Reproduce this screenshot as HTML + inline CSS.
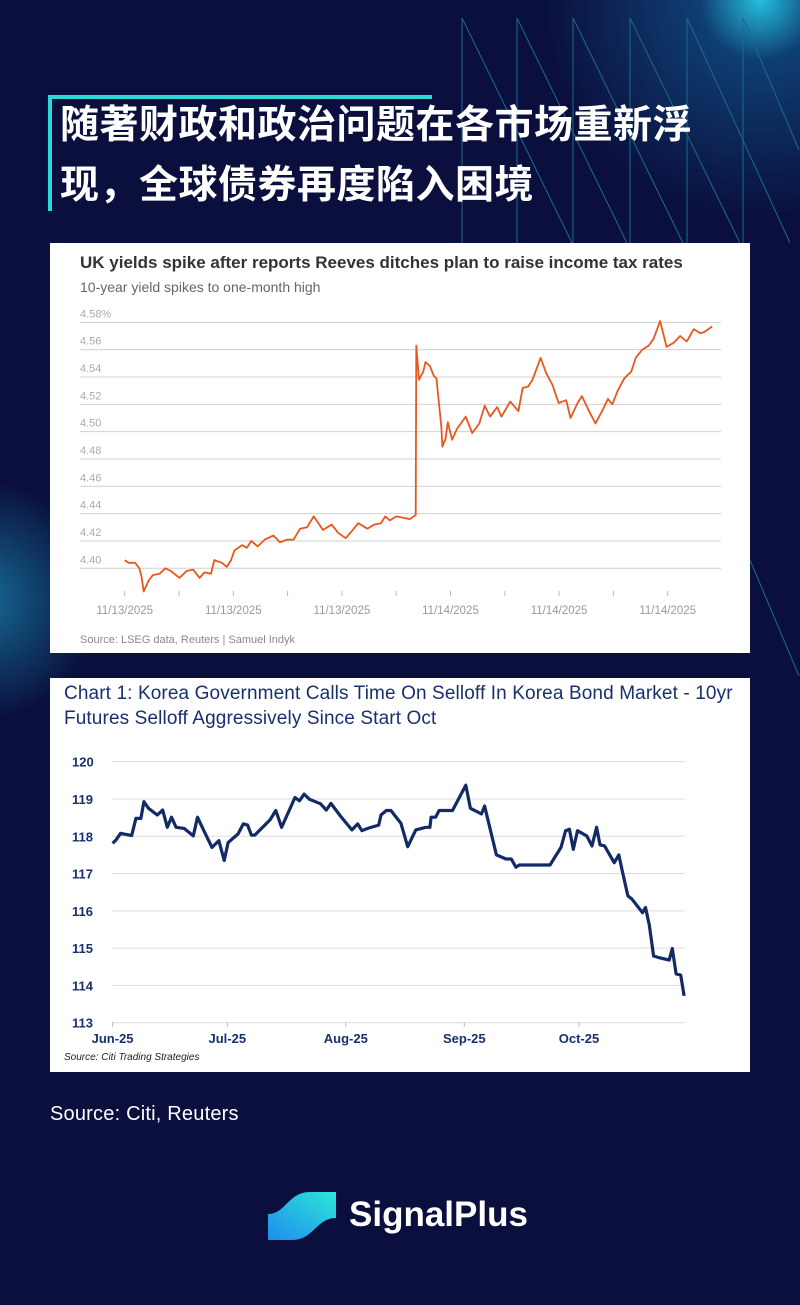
<!DOCTYPE html>
<html><head><meta charset="utf-8">
<style>
*{margin:0;padding:0;box-sizing:border-box}
body{width:800px;height:1305px;background:#0a0f3d;position:relative;overflow:hidden;font-family:"Liberation Sans","Noto Sans CJK SC",sans-serif}
.abs{position:absolute}
</style></head><body>
<div class="abs" style="left:500px;top:-300px;width:300px;height:560px;overflow:hidden"><div style="position:absolute;left:0;top:0;width:520px;height:560px;background:radial-gradient(circle at 260px 300px,rgba(40,210,240,0.9) 0,rgba(20,120,180,0.45) 60px,rgba(10,15,61,0) 220px)"></div></div>
<div class="abs" style="left:0;top:440px;width:110px;height:320px;overflow:hidden"><div style="position:absolute;left:-150px;top:0;width:260px;height:320px;background:radial-gradient(circle at 130px 160px,rgba(30,170,210,0.6) 0,rgba(10,15,61,0) 120px)"></div></div>
<svg class="abs" style="left:0;top:0" width="800" height="700">
<g stroke="#1b6b8a" stroke-width="1" fill="none">
<line x1="462" y1="18" x2="462" y2="243"/><line x1="462" y1="18" x2="572" y2="243"/>
<line x1="517" y1="18" x2="517" y2="243"/><line x1="517" y1="18" x2="627" y2="243"/>
<line x1="573" y1="18" x2="573" y2="243"/><line x1="573" y1="18" x2="683" y2="243"/>
<line x1="630" y1="18" x2="630" y2="243"/><line x1="630" y1="18" x2="740" y2="243"/>
<line x1="687" y1="18" x2="687" y2="243"/><line x1="687" y1="18" x2="790" y2="243"/>
<line x1="743" y1="18" x2="743" y2="243"/><line x1="743" y1="18" x2="799" y2="150"/>
<line x1="750" y1="560" x2="799" y2="676"/>
</g></svg>
<div class="abs" style="left:48px;top:95px;width:384px;height:4px;background:#2ad6d6"></div>
<div class="abs" style="left:48px;top:95px;width:4px;height:116px;background:#2ad6d6"></div>
<div class="abs" style="left:60px;top:96px;white-space:nowrap;color:#fff;font-size:39px;letter-spacing:0.5px;font-weight:bold;line-height:60px;font-family:'Liberation Sans','Noto Sans CJK SC',sans-serif">随著财政和政治问题在各市场重新浮<br>现，全球债券再度陷入困境</div>

<div class="abs" style="left:50px;top:243px;width:700px;height:410px;background:#fff">
<div class="abs" style="left:30px;top:10px;font-size:17px;font-weight:bold;color:#333">UK yields spike after reports Reeves ditches plan to raise income tax rates</div>
<div class="abs" style="left:30px;top:36px;font-size:14px;color:#666">10-year yield spikes to one-month high</div>
<div class="abs" style="left:30px;top:391px;font-size:11px;color:#888">Source: LSEG data, Reuters | Samuel Indyk</div>
</div>
<svg class="abs" id="uk" style="left:0;top:0" width="800" height="660"></svg>

<div class="abs" style="left:50px;top:678px;width:700px;height:394px;background:#fff;overflow:hidden">
<div class="abs" style="left:14px;top:3px;width:690px;font-size:19px;letter-spacing:0.12px;color:#1a2f6e;line-height:25px;white-space:nowrap">Chart 1: Korea Government Calls Time On Selloff In Korea Bond Market - 10yr<br>Futures Selloff Aggressively Since Start Oct</div>
<div class="abs" style="left:14px;top:374px;font-size:10px;font-style:italic;color:#222">Source: Citi Trading Strategies</div>
</div>
<svg class="abs" id="kr" style="left:0;top:0" width="800" height="1080"></svg>

<div class="abs" style="left:50px;top:1103px;font-size:20px;letter-spacing:0.2px;color:#fff">Source: Citi, Reuters</div>
<svg class="abs" style="left:266px;top:1188px" width="72" height="56">
<defs><linearGradient id="lg" x1="0" y1="1" x2="1" y2="0"><stop offset="0" stop-color="#1e8cf0"/><stop offset="1" stop-color="#2ee6d6"/></linearGradient></defs>
<path d="M2 26 C20 26 22 4 44 4 L70 4 L70 30 C50 30 48 52 26 52 L2 52 Z" fill="url(#lg)"/>
</svg>
<div class="abs" style="left:349px;top:1195px;font-size:35px;font-weight:bold;color:#fff">SignalPlus</div>

<script>
// UK chart data (x in tick-interval units from first tick)
const ukTimes=[0,0.07,0.19,0.27,0.31,0.35,0.44,0.52,0.64,0.75,0.85,1.01,1.14,1.26,1.38,1.47,1.59,1.65,1.79,1.88,1.96,2.02,2.16,2.25,2.33,2.45,2.58,2.74,2.86,2.99,3.11,3.23,3.36,3.48,3.55,3.65,3.81,3.93,4.07,4.22,4.30,4.47,4.59,4.72,4.80,4.88,5.00,5.13,5.25,5.36,5.37,5.42,5.50,5.54,5.62,5.69,5.74,5.83,5.85,5.91,5.95,6.03,6.12,6.28,6.40,6.53,6.63,6.73,6.86,6.94,7.10,7.25,7.33,7.43,7.51,7.66,7.76,7.88,7.99,8.13,8.21,8.34,8.42,8.54,8.67,8.79,8.90,8.98,9.08,9.20,9.33,9.41,9.53,9.65,9.74,9.86,9.98,10.11,10.23,10.35,10.48,10.60,10.68,10.82];
const ukYields=[4.406,4.404,4.404,4.400,4.394,4.383,4.391,4.395,4.396,4.400,4.398,4.393,4.398,4.399,4.393,4.397,4.396,4.406,4.404,4.401,4.406,4.413,4.417,4.415,4.420,4.416,4.421,4.424,4.419,4.421,4.421,4.429,4.430,4.438,4.434,4.428,4.432,4.426,4.422,4.429,4.433,4.429,4.432,4.433,4.438,4.435,4.438,4.437,4.436,4.439,4.563,4.538,4.544,4.551,4.548,4.541,4.539,4.504,4.489,4.495,4.507,4.494,4.502,4.511,4.499,4.506,4.519,4.511,4.518,4.511,4.522,4.515,4.532,4.533,4.538,4.554,4.543,4.534,4.521,4.523,4.510,4.521,4.526,4.516,4.506,4.515,4.524,4.520,4.530,4.539,4.544,4.554,4.560,4.563,4.568,4.581,4.562,4.565,4.570,4.566,4.575,4.572,4.573,4.577];
const ukYTicks=[4.40,4.42,4.44,4.46,4.48,4.50,4.52,4.54,4.56,4.58];
const ukXTicks=[0,1,2,3,4,5,6,7,8,9,10];
const ukXLabels=["11/13/2025","","11/13/2025","","11/13/2025","","11/14/2025","","11/14/2025","","11/14/2025"];

// Korea chart data (x in days since 1 Jun 2025)
const krDays=[0,0.9,2.1,3.5,5.0,6.1,7.4,8.2,9.4,11.7,13.1,14.3,15.4,16.6,18.7,21.1,22.2,24.0,26.0,27.8,29.2,30.2,32.8,34.2,35.3,36.3,37.2,39.8,41.2,42.7,44.2,47.7,48.9,50.1,51.5,54.4,55.9,57.1,59.7,62.6,64.1,65.2,66.7,69.6,70.2,71.6,72.8,75.4,77.2,79.3,81.9,83.0,83.3,84.5,85.4,88.9,92.4,93.6,96.5,97.3,100.4,102.9,104.3,105.5,106.4,114.4,117.3,118.5,119.5,120.5,121.6,124.0,125.4,126.6,127.5,128.7,131.2,132.4,133.3,134.8,135.9,138.6,139.4,140.4,141.5,142.7,145.6,146.4,147.4,148.6,149.5];
const krPrices=[117.81,117.9,118.08,118.05,118.02,118.48,118.48,118.93,118.75,118.57,118.70,118.24,118.51,118.24,118.21,118.01,118.51,118.12,117.70,117.88,117.35,117.83,118.06,118.33,118.30,118.03,118.03,118.30,118.44,118.69,118.24,119.04,118.95,119.13,118.99,118.87,118.70,118.88,118.53,118.17,118.33,118.15,118.21,118.30,118.57,118.69,118.69,118.35,117.72,118.17,118.24,118.24,118.51,118.51,118.69,118.69,119.37,118.75,118.60,118.81,117.50,117.39,117.39,117.17,117.23,117.23,117.70,118.15,118.19,117.65,118.15,118.01,117.74,118.24,117.77,117.74,117.29,117.50,117.08,116.40,116.31,115.95,116.09,115.62,114.79,114.75,114.68,114.99,114.31,114.28,113.72];
const krYTicks=[113,114,115,116,117,118,119,120];
const krXTicks=[0,30,61,92,122];
const krXLabels=["Jun-25","Jul-25","Aug-25","Sep-25","Oct-25"];

const NS="http://www.w3.org/2000/svg";
function mk(svg,tag,attrs,text){const e=document.createElementNS(NS,tag);for(const k in attrs)e.setAttribute(k,attrs[k]);if(text!==undefined)e.textContent=text;svg.appendChild(e);return e;}

// UK
const uk=document.getElementById('uk');
const ukX=t=>124.7+t*54.3;
const ukY=v=>568.3-(v-4.40)/0.02*27.33;
ukYTicks.forEach((v,i)=>{
  const g=mk(uk,'line',{x1:80,x2:721,y1:ukY(v),y2:ukY(v),stroke:'#d0d0d0','stroke-width':1});
  
  
  const t=mk(uk,'text',{x:80,y:ukY(v)-5,'font-size':11,fill:'#aaa','font-family':'Liberation Sans'},v.toFixed(2)+(i===ukYTicks.length-1?'%':''));
  
  
});
ukXTicks.forEach((v,i)=>{
  const l=mk(uk,'line',{x1:ukX(v),x2:ukX(v),y1:591,y2:596,stroke:'#bbb'});
  
  
  if(ukXLabels[i]){const t=mk(uk,'text',{x:ukX(v),y:614,'font-size':11.5,fill:'#999','text-anchor':'middle','font-family':'Liberation Sans'},ukXLabels[i]);
  
  }
});
const ukLine=mk(uk,'polyline',{points:ukTimes.map((t,i)=>ukX(t).toFixed(1)+','+ukY(ukYields[i]).toFixed(1)).join(' '),fill:'none',stroke:'#e8581c','stroke-width':1.8,'stroke-linejoin':'round'});



// Korea
const kr=document.getElementById('kr');
const krX=d=>112.6+d*3.823;
const krY=v=>1022.7-(v-113)*37.29;
krYTicks.forEach(v=>{
  const g=mk(kr,'line',{x1:112,x2:685,y1:krY(v),y2:krY(v),stroke:'#dcdcdc','stroke-width':1});
  
  
  const t=mk(kr,'text',{x:72,y:krY(v)+5,'font-size':13,'font-weight':'bold',fill:'#1a2f6e','font-family':'Liberation Sans'},String(v));
  
  
});
krXTicks.forEach((d,i)=>{
  const l=mk(kr,'line',{x1:krX(d),x2:krX(d),y1:1022,y2:1027,stroke:'#bbb'});
  
  
  const t=mk(kr,'text',{x:krX(d),y:1043,'font-size':13,'font-weight':'bold',fill:'#1a2f6e','text-anchor':'middle','font-family':'Liberation Sans'},krXLabels[i]);
  
  
});
const krLine=mk(kr,'polyline',{points:krDays.map((d,i)=>krX(d).toFixed(1)+','+krY(krPrices[i]).toFixed(1)).join(' '),fill:'none',stroke:'#142a66','stroke-width':3.2,'stroke-linejoin':'round'});


</script>
</body></html>
